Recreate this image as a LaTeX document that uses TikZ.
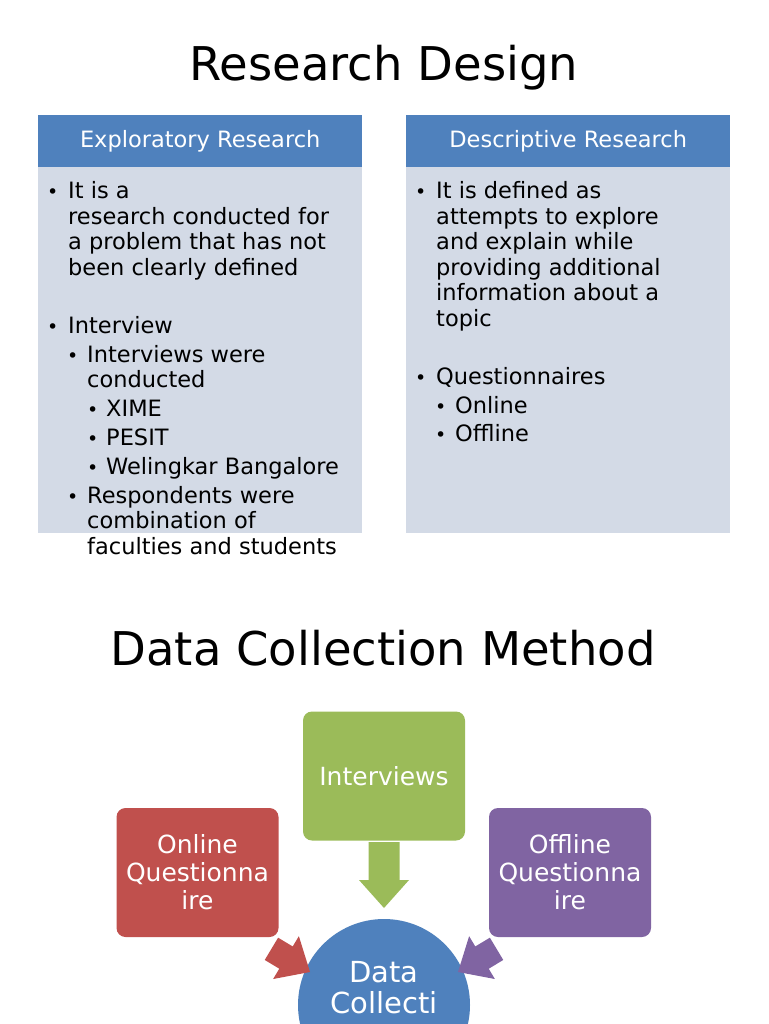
\documentclass[tikz,border=0pt]{standalone}
\usepackage{fontspec}
\setmainfont{DejaVu Sans}
\definecolor{hdrblue}{HTML}{4F81BD}
\definecolor{bodyblue}{HTML}{D3DAE6}
\definecolor{sgreen}{HTML}{9BBB59}
\definecolor{sred}{HTML}{C0504D}
\definecolor{spurple}{HTML}{8064A2}
\tikzset{
  hdr/.style={fill=hdrblue, text=white, minimum width=324pt, minimum height=52pt, anchor=north west, inner sep=0pt, font=\fontsize{22.5}{26}\selectfont},
  panel/.style={fill=bodyblue, minimum width=324pt, minimum height=366pt, anchor=north west, inner sep=0pt},
  txt/.style={anchor=base west, inner sep=0pt, font=\fontsize{22.5}{25.5}\selectfont},
  blt/.style={anchor=base west, inner sep=0pt, font=\fontsize{19}{22}\selectfont},
  tile/.style={rounded corners=9pt, text=white, minimum width=162pt, minimum height=129pt, inner sep=0pt, align=center, font=\fontsize{25}{28}\selectfont},
  heading/.style={font=\fontsize{46.5}{50}\selectfont, inner sep=0pt}
}
\newcommand{\lines}[1]{\begin{tabular}[t]{@{}l@{}}#1\end{tabular}}
\newcommand{\fatarrow}[3]{%
  \fill[#3, shift={#1}, rotate=#2] (0,0) -- (-28,25) -- (-28,15.5) -- (-66,15.5) -- (-66,-15.5) -- (-28,-15.5) -- (-28,-25) -- cycle;}
\newcommand{\headarrow}[3]{%
  \fill[#3, shift={#1}, rotate=#2] (0,0) -- (-28,25) -- (-28,13) -- (-45,13) -- (-45,-13) -- (-28,-13) -- (-28,-25) -- cycle;}
\begin{document}
\begin{tikzpicture}[x=1pt, y=-1pt]
  \useasboundingbox (0,0) rectangle (768,1024);
  \clip (0,0) rectangle (768,1024);
  \node[heading] (title1) at (384,68) {Research Design};
  % left panel
  \node[panel] (lbody) at (38,167) {};
  \node[hdr] (lhead) at (38,115) {Exploratory Research};
  \node[blt] (lb1) at (47,199) {•};
  \node[txt] (lt1) at (68,199) {\lines{It is a\\research conducted for\\a problem that has not\\been clearly defined}};
  \node[blt] (lb2) at (47,333) {•};
  \node[txt] (lt2) at (68,333) {Interview};
  \node[blt] (lb3) at (67,362) {•};
  \node[txt] (lt3) at (87,362) {\lines{Interviews were\\conducted}};
  \node[blt] (lb4) at (87,416) {•};
  \node[txt] (lt4) at (106,416) {XIME};
  \node[blt] (lb5) at (87,445) {•};
  \node[txt] (lt5) at (106,445) {PESIT};
  \node[blt] (lb6) at (87,474) {•};
  \node[txt] (lt6) at (106,474) {Welingkar Bangalore};
  \node[blt] (lb7) at (67,503) {•};
  \node[txt] (lt7) at (87,503) {\lines{Respondents were\\combination of\\faculties and students}};
  % right panel
  \node[panel] (rbody) at (406,167) {};
  \node[hdr] (rhead) at (406,115) {Descriptive Research};
  \node[blt] (rb1) at (415,199) {•};
  \node[txt] (rt1) at (436,199) {\lines{It is defined as\\attempts to explore\\and explain while\\providing additional\\information about a\\topic}};
  \node[blt] (rb2) at (415,384) {•};
  \node[txt] (rt2) at (436,384) {Questionnaires};
  \node[blt] (rb3) at (435,413) {•};
  \node[txt] (rt3) at (455,413) {Online};
  \node[blt] (rb4) at (435,441) {•};
  \node[txt] (rt4) at (455,441) {Offline};
  % data collection
  \node[heading] (title2) at (383,648) {Data Collection Method};
  \node[circle, fill=hdrblue, minimum size=172pt, inner sep=0pt] (dc) at (384,1005) {};
  \node[text=white, align=center, inner sep=0pt, font=\fontsize{29}{31}\selectfont] (dctext) at (384,988) {Data\\Collecti};
  \headarrow{(310,972)}{-31}{sred}
  \headarrow{(458,972)}{-149}{spurple}
  \fatarrow{(384,908)}{-90}{sgreen}
  \node[tile, fill=sgreen] (intv) at (384,776) {Interviews};
  \node[tile, fill=sred] (onq) at (197.5,872.5) {Online\\Questionna\\ire};
  \node[tile, fill=spurple] (offq) at (570,872.5) {Offline\\Questionna\\ire};
\end{tikzpicture}
\end{document}
